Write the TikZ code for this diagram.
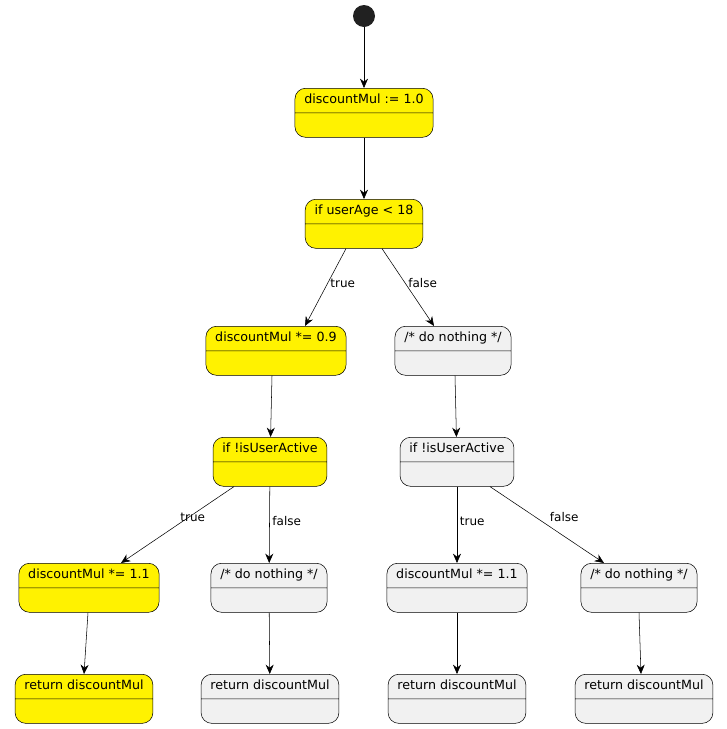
\documentclass[tikz,border=0pt]{standalone}
\usepackage{fontspec}
\setmainfont{DejaVu Sans}
\usetikzlibrary{shapes.multipart,arrows.meta}
\definecolor{actgray}{HTML}{F1F1F1}
\begin{document}
\begin{tikzpicture}[x=0.75pt,y=-0.75pt,
    state/.style={draw,rounded corners=8pt,rectangle split,rectangle split parts=2,
        font={\fontsize{9.5}{11}\selectfont},inner ysep=3.5pt,inner xsep=7pt,anchor=north,fill=actgray},
    hot/.style={state,fill=yellow},
    flow/.style={-{Stealth[length=7pt,width=6pt]}},
    lbl/.style={font={\fontsize{9}{11}\selectfont},inner sep=2pt}]
\useasboundingbox (0,0) rectangle (726,729);
\fill[black!87] (364,16) circle (8.25pt);
\node[circle,minimum size=16.5pt,inner sep=0pt] (init) at (364,16) {};

\node[hot] (mul1) at (364,88) {\strut discountMul := 1.0 \nodepart{two}\rule{0pt}{11pt}};
\node[hot] (age) at (364,199) {\strut if userAge < 18 \nodepart{two}\rule{0pt}{11pt}};
\node[hot] (mul9) at (276,326) {\strut discountMul *= 0.9 \nodepart{two}\rule{0pt}{11pt}};
\node[state] (nopA) at (453,326) {\strut /* do nothing */ \nodepart{two}\rule{0pt}{11pt}};
\node[hot] (actA) at (270,437) {\strut if !isUserActive \nodepart{two}\rule{0pt}{11pt}};
\node[state] (actB) at (457,437) {\strut if !isUserActive \nodepart{two}\rule{0pt}{11pt}};
\node[hot] (mulA) at (89,563) {\strut discountMul *= 1.1 \nodepart{two}\rule{0pt}{11pt}};
\node[state] (nopB) at (269,563) {\strut /* do nothing */ \nodepart{two}\rule{0pt}{11pt}};
\node[state] (mulB) at (457,563) {\strut discountMul *= 1.1 \nodepart{two}\rule{0pt}{11pt}};
\node[state] (nopC) at (639,563) {\strut /* do nothing */ \nodepart{two}\rule{0pt}{11pt}};
\node[hot] (retA) at (84,674) {\strut return discountMul \nodepart{two}\rule{0pt}{11pt}};
\node[state] (retB) at (270,674) {\strut return discountMul \nodepart{two}\rule{0pt}{11pt}};
\node[state] (retC) at (457,674) {\strut return discountMul \nodepart{two}\rule{0pt}{11pt}};
\node[state] (retD) at (644,674) {\strut return discountMul \nodepart{two}\rule{0pt}{11pt}};

\draw[flow] (init) -- (mul1);
\draw[flow] (mul1) -- (age);
\draw[flow] (age.south-|346,0) -- node[lbl,right,pos=0.45] {true} (mul9.north-|305,0);
\draw[flow] (age.south-|382,0) -- node[lbl,right,pos=0.45] {false} (nopA.north-|434,0);
\draw[flow] (mul9.south-|272,0) -- (actA);
\draw[flow] (nopA.south-|455,0) -- (actB);
\draw[flow] (actA.south-|234,0) -- node[lbl,above right,pos=0.5] {true} (mulA.north-|121,0);
\draw[flow] (actA) -- node[lbl,right,pos=0.45] {false} (nopB);
\draw[flow] (actB) -- node[lbl,right,pos=0.45] {true} (mulB);
\draw[flow] (actB.south-|490,0) -- node[lbl,above right,pos=0.5] {false} (nopC.north-|604,0);
\draw[flow] (mulA.south-|88,0) -- (retA.north-|84,0);
\draw[flow] (nopB) -- (retB);
\draw[flow] (mulB) -- (retC);
\draw[flow] (nopC.south-|639,0) -- (retD.north-|641,0);
\end{tikzpicture}
\end{document}
